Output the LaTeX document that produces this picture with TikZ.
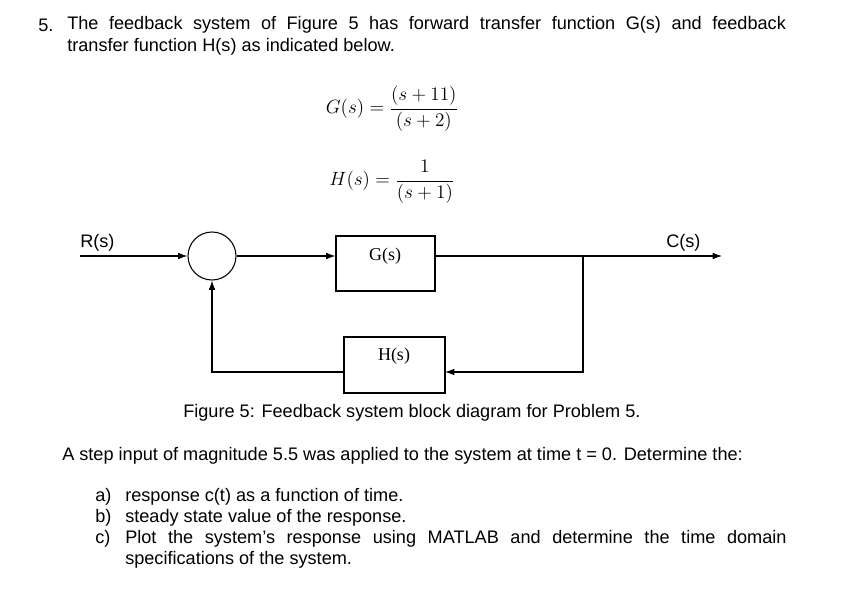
\documentclass[tikz,border=0pt]{standalone}
\usepackage{amsmath}
\usepackage{fontspec}
\setmainfont{Liberation Sans}
\newfontfamily\tms{Liberation Serif}
\usetikzlibrary{arrows.meta}
\begin{document}
\begin{tikzpicture}[x=0.75pt,y=-0.75pt,
  txt/.style={anchor=west,inner sep=0pt,font=\fontsize{13.6}{16}\selectfont},
  blk/.style={draw,thick,inner sep=0pt},
  arr/.style={thick,-{Latex[length=7pt,width=5pt]}}]
\useasboundingbox (0,0) rectangle (849,599);
\node[txt] (t1a) at (38,25) {5.};
\node[txt] (t1) at (67,25) {\makebox[539pt][s]{The feedback system of Figure 5 has forward transfer function G(s) and feedback}};
\node[txt] (t2) at (67,47) {transfer function H(s) as indicated below.};
\node[inner sep=0pt,font=\fontsize{14}{16}\selectfont] (geq) at (392,109) {$G(s)=\dfrac{(s+11)}{(s+2)}$};
\node[inner sep=0pt,font=\fontsize{14}{16}\selectfont] (heq) at (392,182) {$H(s)=\dfrac{1}{(s+1)}$};
\node[txt] (rs) at (80,243) {R(s)};
\node[txt] (cs) at (666,243) {C(s)};
\node[draw,thick,circle,minimum size=36pt,inner sep=0pt] (sum) at (212,256) {};
\node[blk,minimum width=74.25pt,minimum height=41.25pt] (g) at (385.5,263.5) {};
\node[font=\tms\fontsize{13.5}{16}\selectfont,inner sep=0pt] (gt) at (385,256) {G(s)};
\node[blk,minimum width=75.75pt,minimum height=42pt] (h) at (394.5,365) {};
\node[font=\tms\fontsize{13.5}{16}\selectfont,inner sep=0pt] (ht) at (394,356) {H(s)};
\coordinate (rin) at (80,256);
\coordinate (cout) at (722,256);
\coordinate (br) at (583,256);
\coordinate (brd) at (583,372);
\coordinate (hl) at (344,372);
\coordinate (hr) at (445,372);
\coordinate (fb) at (212,372);
\draw[arr] (rin) -- (sum.west);
\draw[arr] (sum.east) -- (g.west |- sum.east);
\draw[arr] (g.east |- br) -- (cout);
\draw[arr] (br) -- (brd) -- (hr);
\draw[arr] (hl) -- (fb) -- (sum.south);
\node[txt] (cap) at (183,413) {Figure 5: Feedback system block diagram for Problem 5.};
\node[txt] (p) at (62,456) {A step input of magnitude 5.5 was applied to the system at time t = 0. Determine the:};
\node[txt] (a) at (95,497) {a)};
\node[txt] (at) at (125,497) {response c(t) as a function of time.};
\node[txt] (b) at (95,518) {b)};
\node[txt] (bt) at (125,518) {steady state value of the response.};
\node[txt] (c) at (95,539) {c)};
\node[txt] (ct) at (125,539) {\makebox[496pt][s]{Plot the system's response using MATLAB and determine the time domain}};
\node[txt] (ct2) at (125,560) {specifications of the system.};
\end{tikzpicture}
\end{document}
